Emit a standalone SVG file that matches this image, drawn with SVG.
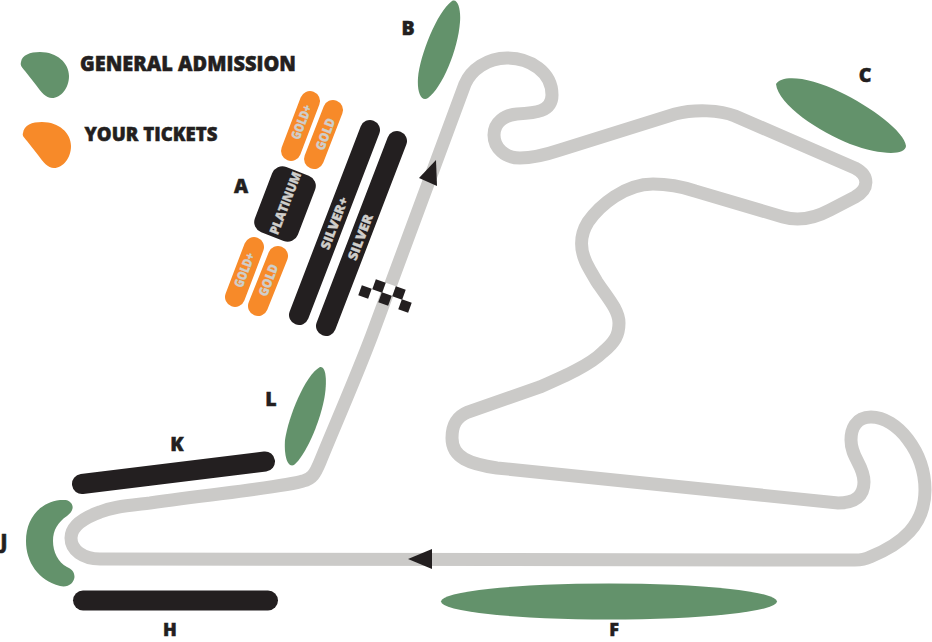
<svg xmlns="http://www.w3.org/2000/svg" width="932" height="642" viewBox="0 0 932 642">
<style>
.lbl{font-family:"Open Sans","Noto Sans",sans-serif;font-weight:800;fill:#231f20;stroke:#231f20;stroke-width:.5;text-anchor:middle}
.in{font-family:"Open Sans","Noto Sans",sans-serif;font-weight:800;fill:#cfcecb;stroke:#cfcecb;stroke-width:.3;text-anchor:middle;dominant-baseline:central;font-size:13px}
.ga{fill:#63926b}
.or{fill:#f78a29}
.bar{fill:none;stroke:#231f20;stroke-width:20;stroke-linecap:round}
.ob{fill:none;stroke:#f78a29;stroke-width:20;stroke-linecap:round}
.bk{fill:#231f20}
</style>
<rect width="932" height="642" fill="#fff"/>
<g id="connectors">
<path id="track" fill="none" stroke="#cbcac8" stroke-width="13" d="M100 559 L855 560 C862 560 866 559 870 557 C902 544 925 525 925 490 C925 452 897 417 871 417 C855 417 851 430 851 440 C851 458 864 465 864 482 C864 496 855 503 838 503 L497 468 C470 464 452 458 452 438 C452 425 456 417 468 412 L540 387 C565 376 590 365 603 352 C615 342 619 335 619 323 C619 310 607 297 597 282 L590 270 C578 250 580 235 588 222 C600 205 625 184 653 184 C668 184 680 186 695 191 L783 217 C800 222 815 218 830 210 L855 197 C869 189 870 176 855 168 L735 116 C720 110 695 109 675 114 L560 150 C545 155 530 158 520 158 C505 158 494 148 494 135 C494 122 505 115 517 114 C535 113 552 112 552 95 C552 72 530 58 507 58 C487 58 471 70 465 84 L372 335 C355 380 335 425 320 462 C315 474 312 479 303 481 C285 487 220 493 150 503 C125 506 112 507 100 512 C83 518 71 527 71 538 C71 550 83 559 100 559 Z"/>
<polygon id="arrow-up" class="bk" points="436,160 419,178 437,186"/>
<polygon id="arrow-left" class="bk" points="408,559 432,549 432,569"/>
</g>
<g id="start-line">
<rect x="383.750" y="284.250" width="10.500" height="10.500" fill="#fff" transform="rotate(20 389 289.500)"/>
<g class="bk">
<rect x="359.750" y="286.750" width="10.500" height="10.500" transform="rotate(20 365 292)"/>
<rect x="373.750" y="280.750" width="10.500" height="10.500" transform="rotate(20 379 286)"/>
<rect x="379.750" y="293.750" width="10.500" height="10.500" transform="rotate(20 385 299)"/>
<rect x="393.750" y="287.750" width="10.500" height="10.500" transform="rotate(20 399 293)"/>
<rect x="399.750" y="300.750" width="10.500" height="10.500" transform="rotate(20 405 306)"/>
</g>
</g>
<g id="legend-ga">
<path class="ga" d="M21 62 C22 55 30 52 40 52 C57 52 69 63 69 76 C69 88 61 98 52 98 C46 98 41 92 36 85 L25 71 C22 67 20 66 21 62 Z"/>
<text class="lbl" x="188" y="71" font-size="21" textLength="216" lengthAdjust="spacingAndGlyphs">GENERAL ADMISSION</text>
</g>
<g id="legend-tickets">
<path class="or" d="M23 133 C24 125 32 122 42 122 C59 122 71 133 71 146 C71 158 63 168 54 168 C48 168 43 162 38 155 L27 141 C24 137 22 136 23 133 Z"/>
<text class="lbl" x="151" y="141" font-size="19.500" textLength="133" lengthAdjust="spacingAndGlyphs">YOUR TICKETS</text>
</g>
<g id="stand-a"><text class="lbl" x="241" y="193" font-size="19.500">A</text></g>
<g id="platinum">
<rect class="bk" x="262" y="169" width="46" height="70" rx="11" transform="rotate(21 285 204)"/>
<text class="in" transform="translate(285 203) rotate(-69)" textLength="66" lengthAdjust="spacingAndGlyphs">PLATINUM</text>
</g>
<g id="silver-plus">
<path class="bar" d="M370 130 L299 315"/>
<text class="in" transform="translate(334 223) rotate(-69)" textLength="55" lengthAdjust="spacingAndGlyphs">SILVER+</text>
</g>
<g id="silver">
<path class="bar" d="M397 141 L326 326"/>
<text class="in" transform="translate(360 237) rotate(-69)" textLength="48" lengthAdjust="spacingAndGlyphs">SILVER</text>
</g>
<g id="gold-plus-upper">
<path class="ob" d="M310 101 L291 151"/>
<text class="in" transform="translate(301 122) rotate(-69)" textLength="36" lengthAdjust="spacingAndGlyphs">GOLD+</text>
</g>
<g id="gold-upper">
<path class="ob" d="M333 110 L314 159"/>
<text class="in" transform="translate(325 134) rotate(-69)" textLength="33" lengthAdjust="spacingAndGlyphs">GOLD</text>
</g>
<g id="gold-plus-lower">
<path class="ob" d="M254 247 L235 297"/>
<text class="in" transform="translate(244 270) rotate(-69)" textLength="36" lengthAdjust="spacingAndGlyphs">GOLD+</text>
</g>
<g id="gold-lower">
<path class="ob" d="M278 256 L258 306"/>
<text class="in" transform="translate(268 280) rotate(-69)" textLength="33" lengthAdjust="spacingAndGlyphs">GOLD</text>
</g>
<g id="stand-b">
<path class="ga" d="M452 1 C458 -2 461 10 460 22 C458 50 442 88 428 98 C421 102 417 92 418 78 C420 55 437 12 452 1 Z"/>
<text class="lbl" x="408" y="35" font-size="19.500">B</text>
</g>
<g id="stand-c">
<path class="ga" d="M776 84 C782 74 810 77 840 92 C870 106 905 132 906 146 C905 156 880 155 850 144 C820 132 778 105 776 84 Z"/>
<text class="lbl" x="865" y="82" font-size="19.500">C</text>
</g>
<g id="stand-f">
<ellipse class="ga" cx="609" cy="601.500" rx="168" ry="18"/>
<text class="lbl" x="614" y="636" font-size="18">F</text>
</g>
<g id="stand-h">
<path class="bar" d="M83 600.500 L268 600.500"/>
<text class="lbl" x="170" y="636" font-size="18">H</text>
</g>
<g id="stand-j">
<path class="ga" d="M71 503 C68 499 64 500 60 500 C38 503 26 520 26 541 C26 562 38 580 60 586 C68 588 74 583 74.500 577 C74.500 571 71 569 67 567 C58 562 53 552 53 541 C53 530 58 522 67 516 C71 513 75 508 71 503 Z"/>
<text class="lbl" x="4" y="548" font-size="19.500">J</text>
</g>
<g id="stand-k">
<path class="bar" d="M82 484 L265 461.500"/>
<text class="lbl" x="177" y="451" font-size="19.500">K</text>
</g>
<g id="stand-l">
<path class="ga" d="M320 367 C327 366 327 385 324 400 C319 425 305 456 294 465 C287 468 284 455 285 440 C288 418 305 375 320 367 Z"/>
<text class="lbl" x="271" y="406" font-size="19.500">L</text>
</g>
</svg>
